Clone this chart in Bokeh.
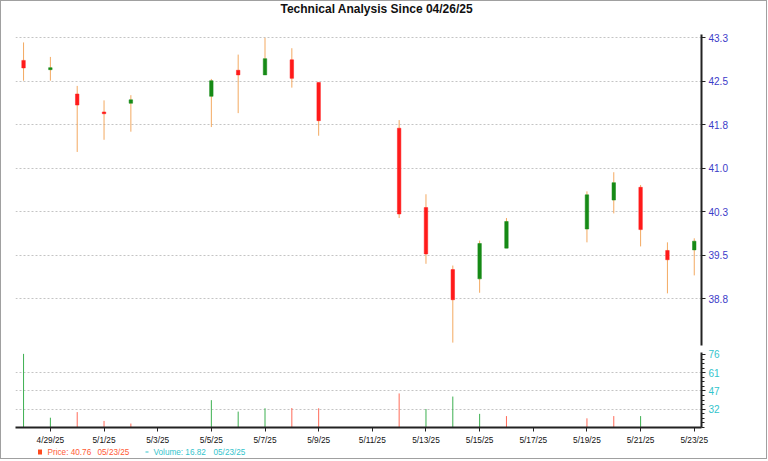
import pandas as pd
from bokeh.plotting import figure
from bokeh.layouts import column
from bokeh.models import Range1d, FixedTicker, ColumnDataSource
from bokeh.core.properties import value
from bokeh.embed import file_html
from bokeh.resources import INLINE

# ---------------- data ----------------
dates = ["2025-04-28", "2025-04-29", "2025-04-30", "2025-05-01", "2025-05-02",
         "2025-05-05", "2025-05-06", "2025-05-07", "2025-05-08", "2025-05-09",
         "2025-05-12", "2025-05-13", "2025-05-14", "2025-05-15", "2025-05-16",
         "2025-05-19", "2025-05-20", "2025-05-21", "2025-05-22", "2025-05-23"]
opens = [42.86, 42.70, 42.28, 41.97, 42.12, 42.24, 42.69, 42.61, 42.87, 42.48,
         41.69, 40.32, 39.25, 39.09, 39.62, 39.95, 40.45, 40.67, 39.58, 39.59]
closes = [42.73, 42.735, 42.09, 41.94, 42.18, 42.51, 42.61, 42.89, 42.55, 41.82,
          40.21, 39.52, 38.73, 39.70, 40.08, 40.54, 40.75, 39.94, 39.42, 39.74]
highs = [43.17, 42.92, 42.42, 42.17, 42.26, 42.54, 42.96, 43.25, 43.07, 42.48,
         41.83, 40.55, 39.32, 39.75, 40.14, 40.60, 40.93, 40.71, 39.72, 39.79]
lows = [42.51, 42.51, 41.28, 41.49, 41.63, 41.71, 41.95, 42.61, 42.39, 41.56,
        40.14, 39.35, 37.99, 38.85, 39.62, 39.72, 40.22, 39.65, 38.84, 39.15]
volumes = [76.5, 25.2, 29.7, 22.6, 20.5, 39.3, 30.1, 32.8, 33.0, 32.8,
           44.7, 32.2, 42.2, 28.3, 26.5, 24.7, 26.5, 26.5, 15.9, 16.82]
vol_dir = ["up", "up", "down", "down", "down", "up", "up", "up", "down", "down",
           "down", "up", "up", "up", "down", "down", "down", "up", "down", "up"]

price_ticks = [38.75, 39.5, 40.25, 41.0, 41.75, 42.5, 43.25]
price_tick_labels = ["38.8", "39.5", "40.3", "41.0", "41.8", "42.5", "43.3"]
vol_ticks = [32.0, 46.667, 61.333, 76.0]
vol_tick_labels = ["32", "47", "61", "76"]
date_tick_dates = ["2025-04-29", "2025-05-01", "2025-05-03", "2025-05-05", "2025-05-07",
                   "2025-05-09", "2025-05-11", "2025-05-13", "2025-05-15", "2025-05-17",
                   "2025-05-19", "2025-05-21", "2025-05-23"]
date_tick_labels = ["4/29/25", "5/1/25", "5/3/25", "5/5/25", "5/7/25", "5/9/25", "5/11/25",
                    "5/13/25", "5/15/25", "5/17/25", "5/19/25", "5/21/25", "5/23/25"]

title_text = "Technical Analysis Since 04/26/25"
price_label = "Price: 40.76"
vol_label = "Volume: 16.82"
last_date_label = "05/23/25"

# ---------------- prep ----------------
base = pd.Timestamp(dates[0])
xd = [(pd.Timestamp(d) - base).days for d in dates]
tick_x = [(pd.Timestamp(d) - base).days for d in date_tick_dates]

UP = "#168a16"
DOWN = "#ff1a1a"
src = ColumnDataSource(dict(
    x=xd, o=opens, c=closes, h=highs, l=lows,
    top=[max(a, b) for a, b in zip(opens, closes)],
    bot=[min(a, b) for a, b in zip(opens, closes)],
    col=[UP if c >= o else DOWN for o, c in zip(opens, closes)],
    v=[float(v) for v in volumes],
    v0=[0.0] * len(volumes),
    vcol=["#3cb050" if d == "up" else "#ff6a58" for d in vol_dir],
))

x_range = Range1d(-0.3, 25.27)
FONT = "Liberation Sans"
W = 765
# the strips' frames line up with the panels' frames (page x 15 .. 701)
PX = Range1d(15, 701)


def strip(fig):
    fig.outline_line_color = None
    fig.grid.visible = False
    fig.min_border_left = 14
    fig.min_border_right = 65
    fig.min_border_top = 0
    fig.min_border_bottom = 0


# ---------------- title strip ----------------
p0 = figure(width=W, height=20, x_range=PX, y_range=Range1d(0, 20),
            output_backend="svg", toolbar_location=None,
            x_axis_location=None, y_axis_location=None)
strip(p0)
p0.text(x=[280], y=[13], text=[title_text], text_font=value(FONT),
        text_font_size="12px", text_font_style="bold", text_color="#111111",
        text_baseline="middle", text_align="left")

# ---------------- price panel ----------------
p1 = figure(width=W, height=327, x_range=x_range, y_range=Range1d(37.94, 43.307),
            output_backend="svg", toolbar_location=None, x_axis_location=None,
            y_axis_location="right", min_border_left=14, min_border_right=65,
            min_border_top=13, min_border_bottom=3)
p1.outline_line_color = None
p1.xgrid.visible = False
p1.ygrid.grid_line_color = "#c4c4c4"
p1.ygrid.grid_line_dash = "2 2"
p1.ygrid.grid_line_width = 1
yax = p1.yaxis[0]
yax.ticker = FixedTicker(ticks=price_ticks)
yax.major_label_overrides = {t: l for t, l in zip(price_ticks, price_tick_labels)}
yax.axis_line_width = 2
yax.axis_line_color = "#222222"
yax.major_tick_out = 4
yax.major_tick_in = 0
yax.minor_tick_out = 0
yax.minor_tick_in = 0
yax.major_tick_line_color = "#222222"
yax.major_label_text_font = FONT
yax.major_label_text_font_size = "10px"
yax.major_label_text_color = "#3b3bc8"
yax.major_label_standoff = 3

p1.segment(x0="x", y0="l", x1="x", y1="h", source=src, line_color="#f2a050",
           line_width=1, line_alpha=0.9)
p1.vbar(x="x", bottom="bot", top="top", width=0.13, source=src,
        fill_color="col", line_color="col", line_width=0.5)

# ---------------- volume panel ----------------
p2 = figure(width=W, height=99, x_range=x_range, y_range=Range1d(17.33, 77.6),
            output_backend="svg", toolbar_location=None,
            y_axis_location="right", min_border_left=14, min_border_right=65,
            min_border_top=4, min_border_bottom=18)
p2.outline_line_color = None
p2.xgrid.visible = False
p2.ygrid.grid_line_color = "#c4c4c4"
p2.ygrid.grid_line_dash = "2 2"
p2.ygrid.grid_line_width = 1
p2.ygrid.ticker = FixedTicker(ticks=vol_ticks[:-1])

step = (vol_ticks[1] - vol_ticks[0]) / 4
minor = [vol_ticks[0] + k * step for k in range(-4, 14)]
vax = p2.yaxis[0]
vax.ticker = FixedTicker(ticks=vol_ticks, minor_ticks=minor)
vax.major_label_overrides = {t: l for t, l in zip(vol_ticks, vol_tick_labels)}
vax.axis_line_width = 2
vax.axis_line_color = "#222222"
vax.major_tick_out = 4
vax.major_tick_in = 0
vax.minor_tick_out = 3
vax.minor_tick_in = 0
vax.major_tick_line_color = "#222222"
vax.minor_tick_line_color = "#222222"
vax.major_label_text_font = FONT
vax.major_label_text_font_size = "10px"
vax.major_label_text_color = "#33c4cc"
vax.major_label_standoff = 3

xax = p2.xaxis[0]
xax.ticker = FixedTicker(ticks=tick_x)
xax.major_label_overrides = {t: l for t, l in zip(tick_x, date_tick_labels)}
xax.axis_line_width = 2
xax.axis_line_color = "#222222"
xax.major_tick_out = 4
xax.major_tick_in = 0
xax.minor_tick_out = 0
xax.minor_tick_in = 0
xax.major_tick_line_color = "#222222"
xax.major_label_text_font = FONT
xax.major_label_text_font_size = "8.3px"
xax.major_label_text_color = "#111111"
xax.major_label_standoff = 3

p2.segment(x0="x", y0="v0", x1="x", y1="v", source=src, line_color="vcol", line_width=1)

# ---------------- legend strip ----------------
p3 = figure(width=W, height=11, x_range=PX, y_range=Range1d(0, 11),
            output_backend="svg", toolbar_location=None,
            x_axis_location=None, y_axis_location=None)
strip(p3)
LY = 7.5
PRICE_C = "#ff5a36"
VOL_C = "#33c4cc"
p3.rect(x=[39.5], y=[LY], width=4, height=5, fill_color="#ff4a1e", line_color=None)
p3.text(x=[47, 97], y=[LY, LY], text=[price_label, last_date_label], text_font=value(FONT),
        text_font_size="8.2px", text_color=PRICE_C, text_baseline="middle")
p3.segment(x0=[145], y0=[LY], x1=[148], y1=[LY], line_color=VOL_C, line_width=1.2)
p3.text(x=[153, 213], y=[LY, LY], text=[vol_label, last_date_label], text_font=value(FONT),
        text_font_size="8.2px", text_color=VOL_C, text_baseline="middle")

layout = column(p0, p1, p2, p3, spacing=0, styles={"border": "1px solid #a0a0a0"})
open("out.html", "w").write(file_html(layout, INLINE))
